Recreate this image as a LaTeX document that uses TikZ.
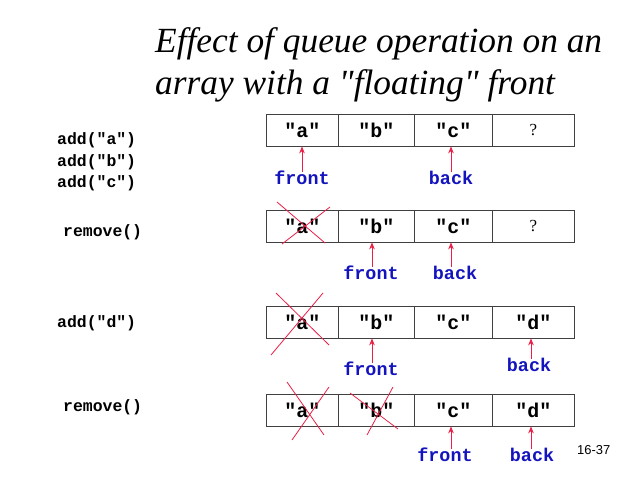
\documentclass[tikz,border=0pt]{standalone}
\usepackage{fontspec}
\setmainfont{Liberation Serif}[Ligatures=TeXOff]
\newfontfamily\cour{Liberation Mono}
\usetikzlibrary{arrows.meta}
\definecolor{lblue}{RGB}{20,20,190}
\definecolor{lred}{RGB}{235,30,70}
\newcommand{\qq}[1]{\char34\relax #1\char34\relax}
\tikzset{
 cell/.style={draw=black!75,line width=0.8pt,minimum height=32bp,inner sep=0pt,font=\cour\bfseries\fontsize{20}{20}\selectfont,anchor=west},
 op/.style={font=\cour\bfseries\fontsize{16.5}{17}\selectfont,anchor=west,inner sep=0pt},
 ptr/.style={font=\cour\bfseries\fontsize{18.5}{18}\selectfont,text=lblue,inner sep=1pt},
 parr/.style={draw=lred,line width=0.9pt,-{Stealth[length=7bp,width=5.5bp]}},
 xline/.style={draw=lred,line width=0.8pt}
}
\begin{document}
\begin{tikzpicture}[x=1bp,y=-1bp]
\useasboundingbox[fill=white] (0,0) rectangle (638,478);
\node[anchor=west,inner sep=0pt,font=\itshape\fontsize{35.5}{35}\selectfont] (t1) at (155,44) {Effect of queue operation on an};
\node[anchor=west,inner sep=0pt,font=\itshape\fontsize{35.5}{35}\selectfont] (t2) at (155,86) {array with a \qq{floating} front};
\node[op] (o1) at (57,140) {add(\qq{a})};
\node[op] (o2) at (57,162) {add(\qq{b})};
\node[op] (o3) at (57,183) {add(\qq{c})};
\node[op] (o4) at (63,232) {remove()};
\node[op] (o5) at (57,323) {add(\qq{d})};
\node[op] (o6) at (63,407) {remove()};
\foreach \r/\y in {1/130,2/226,3/322,4/410}{
 \node[cell,minimum width=72bp] (a\r) at (266,\y) {\qq{a}};
 \node[cell,minimum width=76bp] (b\r) at (338,\y) {\qq{b}};
 \node[cell,minimum width=78bp] (c\r) at (414,\y) {\qq{c}};
}
\node[cell,minimum width=82bp,font=\rmfamily\fontsize{17}{17}\selectfont] (d1) at (492,130) {?};
\node[cell,minimum width=82bp,font=\rmfamily\fontsize{17}{17}\selectfont] (d2) at (492,226) {?};
\node[cell,minimum width=82bp] (d3) at (492,322) {\qq{d}};
\node[cell,minimum width=82bp] (d4) at (492,410) {\qq{d}};
\node[ptr] (f1) at (302,178) {front};
\node[ptr] (k1) at (451,178) {back};
\node[ptr] (f2) at (371,273) {front};
\node[ptr] (k2) at (455,273) {back};
\node[ptr] (f3) at (371,369) {front};
\node[ptr] (k3) at (529,365) {back};
\node[ptr] (f4) at (445,455) {front};
\node[ptr] (k4) at (532,455) {back};
\draw[parr] ([yshift=-2bp]f1.north) -- (f1.north|-a1.south);
\draw[parr] ([yshift=-2bp]k1.north) -- (k1.north|-c1.south);
\draw[parr] ([xshift=1bp,yshift=-2bp]f2.north) -- ([xshift=1bp]f2.north|-b2.south);
\draw[parr] ([xshift=-4bp,yshift=-2bp]k2.north) -- ([xshift=-4bp]k2.north|-c2.south);
\draw[parr] ([xshift=1bp,yshift=-2bp]f3.north) -- ([xshift=1bp]f3.north|-b3.south);
\draw[parr] ([xshift=2bp,yshift=-2bp]k3.north) -- ([xshift=2bp]k3.north|-d3.south);
\draw[parr] ([xshift=6bp,yshift=-2bp]f4.north) -- ([xshift=6bp]f4.north|-c4.south);
\draw[parr] ([xshift=-1bp,yshift=-2bp]k4.north) -- ([xshift=-1bp]k4.north|-d4.south);
\draw[xline] (277,202) -- (325,243) (330,207) -- (282,244);
\draw[xline] (276,293) -- (329,345) (323,293) -- (271,355);
\draw[xline] (287,382) -- (324,435) (329,387) -- (292,440);
\draw[xline] (350,393) -- (398,429) (393,387) -- (367,435);
\node[anchor=west,inner sep=0pt,font=\fontspec{Liberation Sans}\fontsize{13}{13}\selectfont] (pg) at (577,450) {16-37};
\end{tikzpicture}
\end{document}
